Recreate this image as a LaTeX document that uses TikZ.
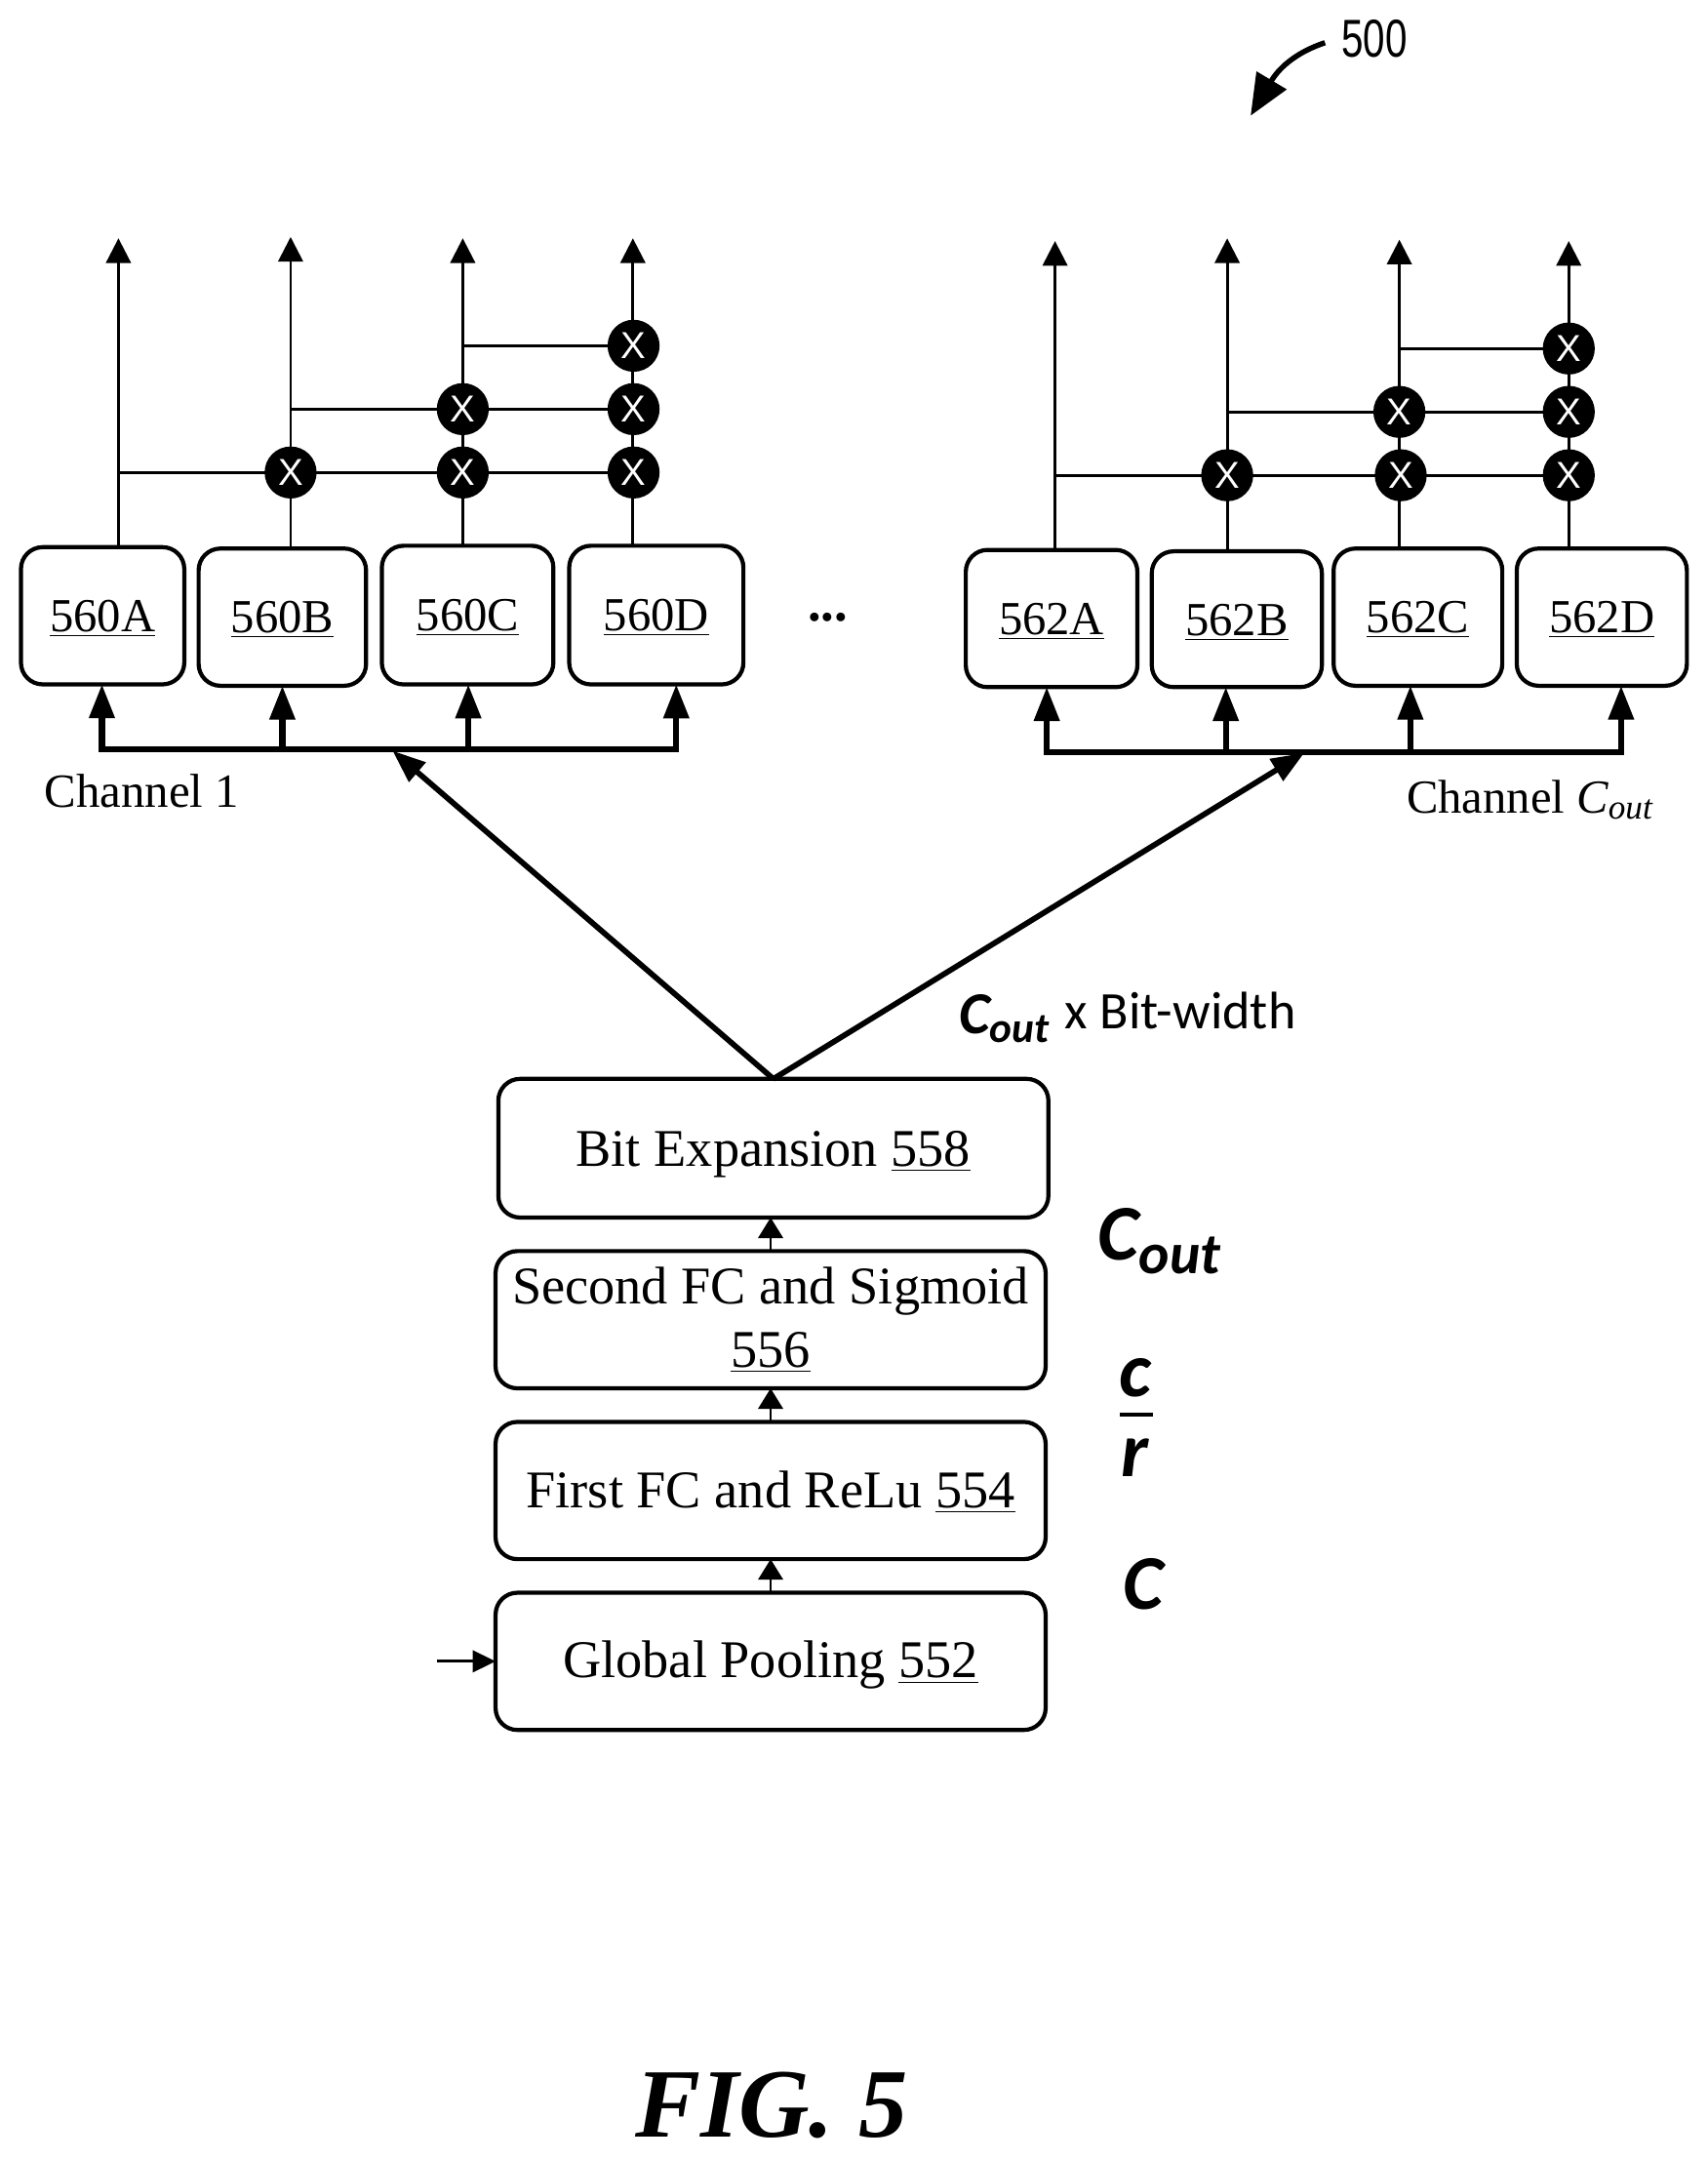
\documentclass[tikz,border=0pt]{standalone}
\usepackage{fontspec}
\setmainfont{Liberation Serif}
\newfontfamily\calfont{Carlito}
\newfontfamily\arialfont{Liberation Sans}
\usetikzlibrary{arrows.meta,backgrounds}
\newcommand{\fs}[1]{\fontsize{#1}{#1}\selectfont}
\newcommand{\dn}[2][-6.6pt]{\raisebox{#1}[0pt][0pt]{#2}}
\newcommand{\CoutLabel}[3]{{\calfont\bfseries\itshape\fs{#1}C\raisebox{-#3}{\fs{#2}out}}}
\tikzset{
  x=0.02cm,y=-0.02cm,
  blockbox/.style={draw=black,line width=1.7pt,rounded corners=9pt,fill=white,inner sep=0pt,outer sep=0pt,align=center,font=\fs{21.9}},
  smallbox/.style={blockbox,font=\fs{19.6}},
  mul/.style={circle,fill=black,text=white,inner sep=0pt,outer sep=0pt,minimum size=21.5pt,font=\arialfont\fs{15.5}},
  wire/.style={line width=1.15pt,draw=black},
  outwire/.style={wire,-{Triangle[length=10.2pt,width=10.2pt]}},
  buswire/.style={line width=2.5pt,draw=black},
  busarrow/.style={line width=2.5pt,draw=black,-{Triangle[length=14pt,width=10.2pt]}},
  mainarrow/.style={line width=2.3pt,draw=black,-{Triangle[length=13.6pt,width=10.2pt]}},
  linkarrow/.style={wire,-{Triangle[length=8.5pt,width=10.2pt]}},
  inarrow/.style={wire,-{Triangle[length=9.5pt,width=9pt]}},
}
\begin{document}
\begin{tikzpicture}
\useasboundingbox (0,0) rectangle (1240,1568);
\begin{scope}[on background layer]
\fill[white] (0,0) rectangle (1240,1568);
\end{scope}
% channel 1 blocks
\node[smallbox,minimum width=67.5pt,minimum height=56.7pt] (A) at (74.5,447) {\dn{\underline{560A}}};
\node[smallbox,minimum width=69.2pt,minimum height=56.7pt] (B) at (205,448) {\dn{\underline{560B}}};
\node[smallbox,minimum width=70.9pt,minimum height=57.3pt] (C) at (339.5,446.5) {\dn{\underline{560C}}};
\node[smallbox,minimum width=72pt,minimum height=57.3pt] (D) at (476.5,446.5) {\dn{\underline{560D}}};
% channel Cout blocks
\node[smallbox,minimum width=70.9pt,minimum height=56.7pt] (E) at (763.5,449) {\dn{\underline{562A}}};
\node[smallbox,minimum width=70.3pt,minimum height=56.1pt] (F) at (898,449.5) {\dn{\underline{562B}}};
\node[smallbox,minimum width=69.7pt,minimum height=56.7pt] (G) at (1029.5,448) {\dn{\underline{562C}}};
\node[smallbox,minimum width=70.3pt,minimum height=56.7pt] (H) at (1163,448) {\dn{\underline{562D}}};
% stack
\node[blockbox,minimum width=227.3pt,minimum height=57.3pt] (be) at (561.5,833.5) {\dn[-7.3pt]{Bit Expansion \underline{558}}};
\node[blockbox,minimum width=227.3pt,minimum height=56.7pt] (sf) at (559.5,958) {Second FC and Sigmoid\\[4.2pt]\underline{556}};
\node[blockbox,minimum width=227.3pt,minimum height=56.7pt] (ff) at (559.5,1082) {\dn[-7.2pt]{First FC and ReLu \underline{554}}};
\node[blockbox,minimum width=227.3pt,minimum height=56.7pt] (gp) at (559.5,1206) {\dn[-6.9pt]{Global Pooling \underline{552}}};
% multipliers, channel 1
\node[mul] (xB1) at (211,343) {X};
\node[mul] (xC1) at (336,343) {X};
\node[mul] (xD1) at (460,343) {X};
\node[mul] (xC2) at (336,297) {X};
\node[mul] (xD2) at (460,297) {X};
\node[mul] (xD3) at (460,251) {X};
% multipliers, channel Cout
\node[mul] (xF1) at (891,345) {X};
\node[mul] (xG1) at (1017,345) {X};
\node[mul] (xH1) at (1139,345) {X};
\node[mul] (xG2) at (1016,299) {X};
\node[mul] (xH2) at (1139,299) {X};
\node[mul] (xH3) at (1139,253) {X};
% free ends
\coordinate (tA) at (86,173);
\coordinate (tB) at (211,172);
\coordinate (tC) at (336,173);
\coordinate (tD) at (459.5,173);
\coordinate (tE) at (766,175);
\coordinate (tF) at (891,173);
\coordinate (tG) at (1016,174);
\coordinate (tH) at (1139,175);
\coordinate (bA) at (74,544);
\coordinate (bB) at (205,544);
\coordinate (bC) at (340,544);
\coordinate (bD) at (491,544);
\coordinate (bE) at (760,546);
\coordinate (bF) at (890,546);
\coordinate (bG) at (1024,546);
\coordinate (bH) at (1177,546);
\coordinate (busL) at (285,545);
\coordinate (busR) at (947,546.5);
\coordinate (inp) at (317,1206);
\begin{scope}[on background layer]
\draw[outwire] (tA |- A.north) -- (tA);
\draw[outwire] (tB |- B.north) -- (tB);
\draw[outwire] (tC |- C.north) -- (tC);
\draw[outwire] (tD |- D.north) -- (tD);
\draw[outwire] (tE |- E.north) -- (tE);
\draw[outwire] (tF |- F.north) -- (tF);
\draw[outwire] (tG |- G.north) -- (tG);
\draw[outwire] (tH |- H.north) -- (tH);
\draw[wire] (tA |- xB1) -- (xD1);
\draw[wire] (tB |- xC2) -- (xD2);
\draw[wire] (tC |- xD3) -- (xD3);
\draw[wire] (tE |- xF1) -- (xH1);
\draw[wire] (tF |- xG2) -- (xH2);
\draw[wire] (tG |- xH3) -- (xH3);
\end{scope}
% buses
\draw[buswire,line cap=rect] (bA) -- (bD);
\draw[buswire,line cap=rect] (bE) -- (bH);
\draw[busarrow] (bA) -- (bA |- A.south);
\draw[busarrow] (bB) -- (bB |- B.south);
\draw[busarrow] (bC) -- (bC |- C.south);
\draw[busarrow] (bD) -- (bD |- D.south);
\draw[busarrow] (bE) -- (bE |- E.south);
\draw[busarrow] (bF) -- (bF |- F.south);
\draw[busarrow] (bG) -- (bG |- G.south);
\draw[busarrow] (bH) -- (bH |- H.south);
\draw[mainarrow] (be.north) -- (busL);
\draw[mainarrow] (be.north) -- (busR);
% links in the stack
\draw[linkarrow] (sf.north) -- (be.south -| sf.north);
\draw[linkarrow] (ff.north) -- (sf.south);
\draw[linkarrow] (gp.north) -- (ff.south);
\draw[inarrow] (inp) -- (gp.west);
% labels
\node[inner sep=0pt,font=\bfseries\fs{22}] (dots) at (601,448) {...};
\node[inner sep=0pt,anchor=base west,font=\fs{19.7}] (ch1) at (32,586) {Channel 1};
\node[inner sep=0pt,anchor=base west,font=\fs{19.6}] (chc) at (1021,590) {Channel \textit{C\raisebox{-2.5pt}{\fs{14.2}out}}};
\node[inner sep=0pt,anchor=base west] (cb1) at (696,750) {\CoutLabel{24.6}{17.5}{4pt}};
\node[inner sep=0pt,anchor=base west,font=\calfont\fs{21.8}] (cb2) at (773,747) {x Bit-width};
\node[inner sep=0pt,anchor=base west] (cout) at (797,915) {\CoutLabel{32.6}{24}{5.5pt}};
\node[inner sep=0pt] (fc) at (824,1000) {\calfont\bfseries\itshape\fs{32}c};
\draw[line width=1.7pt] (813,1027) -- (837,1027);
\node[inner sep=0pt] (fr) at (824,1058) {\calfont\bfseries\itshape\fs{32}r};
\node[inner sep=0pt] (cc) at (830,1150) {\calfont\bfseries\itshape\fs{32}C};
\node[inner sep=0pt,font=\arialfont\fs{22}] (ref) at (998,28) {\scalebox{.74}[1]{500}};
\coordinate (refs) at (962,31);
\coordinate (reft) at (908,84);
\draw[line width=2.2pt,-{Triangle[length=17pt,width=14pt]}] (refs) .. controls (944,37) and (930,47) .. (reft);
\node[inner sep=0pt,font=\bfseries\itshape\fs{40.5}] (fig) at (560,1528) {FIG. 5};
\end{tikzpicture}
\end{document}
